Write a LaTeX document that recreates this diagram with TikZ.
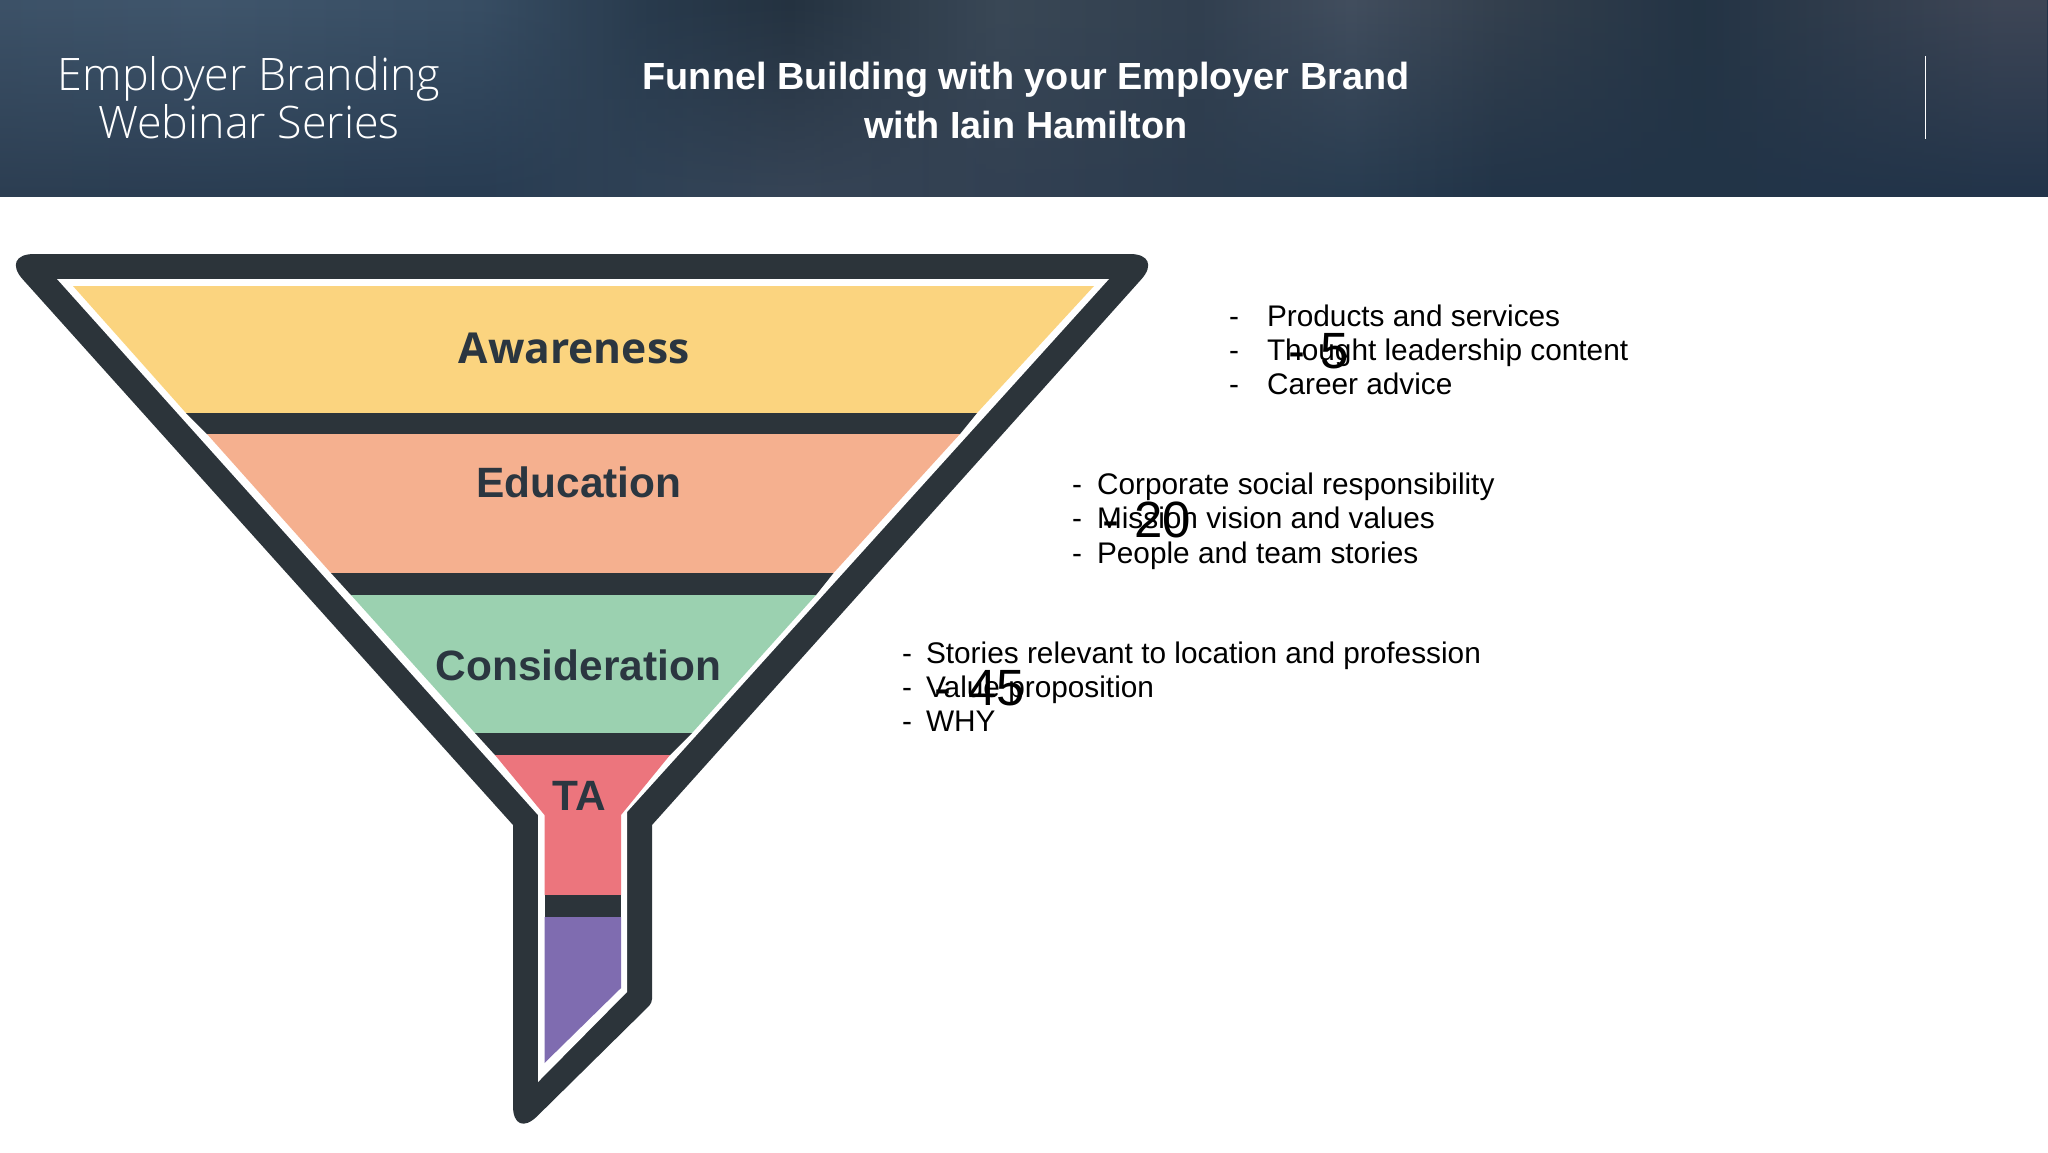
\documentclass[tikz,border=0pt]{standalone}
\usepackage{fontspec}
\usetikzlibrary{fadings,shadings}
\setmainfont{Liberation Sans}
\newfontfamily\lightf{Open Sans Light}
\newfontfamily\labelf{Open Sans}
\definecolor{darkf}{HTML}{2C343A}
\definecolor{labelc}{HTML}{2B3640}
\definecolor{yellowf}{HTML}{FBD47F}
\definecolor{peachf}{HTML}{F5B08F}
\definecolor{greenf}{HTML}{9BD1B0}
\definecolor{redf}{HTML}{EC757D}
\definecolor{purplef}{HTML}{7F6CB0}
\pgfdeclarehorizontalshading{hdtop}{100bp}{
 rgb(0bp)=(.239,.322,.408);
 rgb(25bp)=(.239,.322,.408);
 rgb(30bp)=(.251,.337,.424);
 rgb(36.7bp)=(.220,.306,.392);
 rgb(40.9bp)=(.157,.227,.298);
 rgb(44.3bp)=(.141,.196,.251);
 rgb(49.4bp)=(.227,.282,.337);
 rgb(54.3bp)=(.196,.251,.314);
 rgb(58bp)=(.259,.306,.369);
 rgb(61.6bp)=(.204,.251,.306);
 rgb(66.5bp)=(.141,.204,.267);
 rgb(73.8bp)=(.243,.275,.337);
 rgb(75bp)=(.243,.275,.337);
 rgb(100bp)=(.243,.275,.337)}
\pgfdeclarehorizontalshading{hdbot}{100bp}{
 rgb(0bp)=(.173,.243,.322);
 rgb(25bp)=(.173,.243,.322);
 rgb(36.7bp)=(.157,.235,.322);
 rgb(40.9bp)=(.188,.259,.337);
 rgb(44.3bp)=(.212,.267,.337);
 rgb(49.4bp)=(.196,.251,.322);
 rgb(54.3bp)=(.173,.235,.306);
 rgb(58bp)=(.157,.235,.314);
 rgb(61.6bp)=(.133,.204,.282);
 rgb(66.5bp)=(.133,.204,.282);
 rgb(75bp)=(.133,.204,.290);
 rgb(100bp)=(.133,.204,.290)}
\tikzset{
  x=0.5pt,y=-0.5pt,
  txt/.style={inner sep=0pt,outer sep=0pt,anchor=base},
  item/.style={inner sep=0pt,outer sep=0pt,anchor=base west,text=black,font=\fontsize{14.9}{15}\selectfont},
  dashmark/.style={item},
  bignum/.style={inner sep=0pt,outer sep=0pt,anchor=base west,text=black,font=\fontsize{25.5}{26}\selectfont},
  bigdash/.style={inner sep=0pt,outer sep=0pt,anchor=base,text=black,font=\fontsize{25.5}{26}\selectfont},
  head/.style={txt,text=white},
  band/.style={txt,text=labelc},
}
\begin{document}
\begin{tikzpicture}
\useasboundingbox (0,0) rectangle (2048,1152);
\fill[white] (0,0) rectangle (2048,1152);
% header
\shade[shading=hdbot] (0,0) rectangle (2048,196);
\shade[shading=hdtop,path fading=south] (0,0) rectangle (2048,196);
\node[head,font=\lightf\fontsize{22.4}{22}\selectfont] (brand1) at (249,90) {Employer Branding};
\node[head,font=\lightf\fontsize{22.4}{22}\selectfont] (brand2) at (249,138) {Webinar Series};
\node[head,font=\bfseries\fontsize{18.9}{19}\selectfont] (title1) at (1026,89) {Funnel Building with your Employer Brand};
\node[head,font=\bfseries\fontsize{18.9}{19}\selectfont] (title2) at (1026,138) {with Iain Hamilton};
\draw[white,line width=0.8pt] (1925.5,56) -- (1925.5,139);
% funnel
\fill[darkf] (513,825) [rounded corners=17pt] -- (0,254) -- (1164,254) [sharp corners] -- (652,825) [rounded corners=2pt] -- (652,1003) [rounded corners=17pt] -- (513,1140) [sharp corners] -- cycle;
\fill[white] (57,279) -- (1109,279) -- (627,812) -- (627,992) -- (538,1082) -- (538,815) -- cycle;
% bands
\fill[yellowf] (73,286) -- (1094,286) -- (977,413) -- (186,413) -- cycle;
\fill[darkf] (186,413) -- (977,413) -- (960,434) -- (207,434) -- cycle;
\fill[peachf] (207,434) -- (960,434) -- (833.5,573) -- (331,573) -- cycle;
\fill[darkf] (331,573) -- (833.5,573) -- (816,595) -- (351,595) -- cycle;
\fill[greenf] (351,595) -- (816,595) -- (692,733) -- (475,733) -- cycle;
\fill[darkf] (475,733) -- (692,733) -- (670,755) -- (495,755) -- cycle;
\fill[redf] (495,755) -- (670,755) -- (621,815) -- (621,895) -- (544.5,895) -- (544.5,815) -- cycle;
\fill[darkf] (544.5,895) rectangle (621,917);
\fill[purplef] (544.5,917) -- (621,917) -- (621,988) -- (544.5,1063) -- cycle;
% band labels
\node[band,font=\labelf\bfseries\fontsize{21.3}{21}\selectfont] (aw) at (574,363) {Awareness};
\node[band,font=\bfseries\fontsize{21.2}{21}\selectfont] (ed) at (579,497) {Education};
\node[band,font=\bfseries\fontsize{21.2}{21}\selectfont] (co) at (578.5,680) {Consideration};
\node[band,font=\bfseries\fontsize{21.2}{21}\selectfont] (ta) at (579,810) {TA};
% list 1
\node[dashmark] (d1a) at (1229,326) {-};
\node[item] (l1a) at (1267,326) {Products and services};
\node[dashmark] (d1b) at (1229,360) {-};
\node[item] (l1b) at (1267,360) {Thought leadership content};
\node[dashmark] (d1c) at (1229,394) {-};
\node[item] (l1c) at (1267,394) {Career advice};
\node[bigdash] (n1d) at (1297,368) {-};
\node[bignum] (n1) at (1320,368) {5};
% list 2
\node[dashmark] (d2a) at (1072,494) {-};
\node[item] (l2a) at (1097,494) {Corporate social responsibility};
\node[dashmark] (d2b) at (1072,528) {-};
\node[item] (l2b) at (1097,528) {Mission vision and values};
\node[dashmark] (d2c) at (1072,563) {-};
\node[item] (l2c) at (1097,563) {People and team stories};
\node[bigdash] (n2d) at (1111,537) {-};
\node[bignum] (n2) at (1134,537) {20};
% list 3
\node[dashmark] (d3a) at (902,663) {-};
\node[item] (l3a) at (926,663) {Stories relevant to location and profession};
\node[dashmark] (d3b) at (902,697) {-};
\node[item] (l3b) at (926,697) {Value proposition};
\node[dashmark] (d3c) at (902,731) {-};
\node[item] (l3c) at (926,731) {WHY};
\node[bigdash] (n3d) at (943,705) {-};
\node[bignum] (n3) at (968,705) {45};
\end{tikzpicture}
\end{document}
